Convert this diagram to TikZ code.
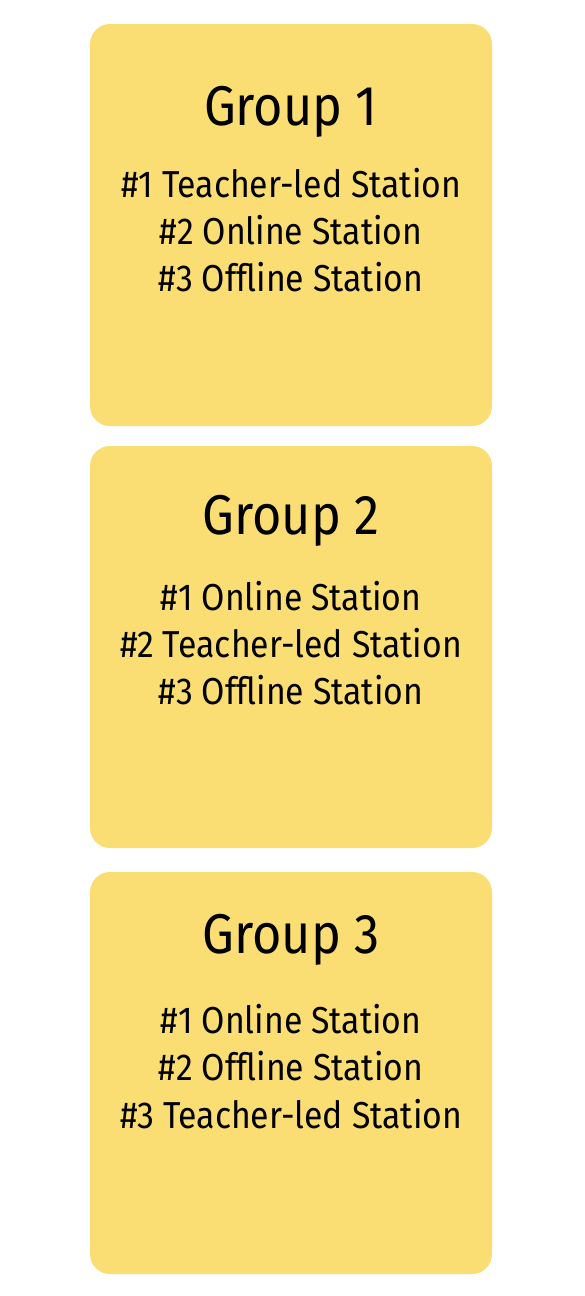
\documentclass[tikz,border=0pt]{standalone}
\usepackage{fontspec}
\setmainfont{Fira Sans}[FakeStretch=0.9]
\definecolor{boxyellow}{RGB}{250,221,115}
\begin{document}
\begin{tikzpicture}[x=1pt,y=-1pt,
  groupbox/.style={fill=boxyellow,draw=none,rounded corners=20pt},
  title/.style={anchor=base,font=\fontsize{56}{56}\selectfont,inner sep=0pt},
  item/.style={anchor=base,font=\fontsize{37.5}{37.5}\selectfont,inner sep=0pt}]
\useasboundingbox (0,0) rectangle (584,1296);
\fill[groupbox] (90,24) rectangle (492,426);
\fill[groupbox] (90,446) rectangle (492,848);
\fill[groupbox] (90,872) rectangle (492,1274);
\node[title] (g1) at (291,125) {Group 1};
\node[item] (g1a) at (291,197) {\#1 Teacher-led Station};
\node[item] (g1b) at (291,244) {\#2 Online Station};
\node[item] (g1c) at (291,291) {\#3 Offline Station};
\node[title] (g2) at (291,534) {Group 2};
\node[item] (g2a) at (291,610) {\#1 Online Station};
\node[item] (g2b) at (291,657) {\#2 Teacher-led Station};
\node[item] (g2c) at (291,704) {\#3 Offline Station};
\node[title] (g3) at (291,953) {Group 3};
\node[item] (g3a) at (291,1033) {\#1 Online Station};
\node[item] (g3b) at (291,1080) {\#2 Offline Station};
\node[item] (g3c) at (291,1128) {\#3 Teacher-led Station};
\end{tikzpicture}
\end{document}
